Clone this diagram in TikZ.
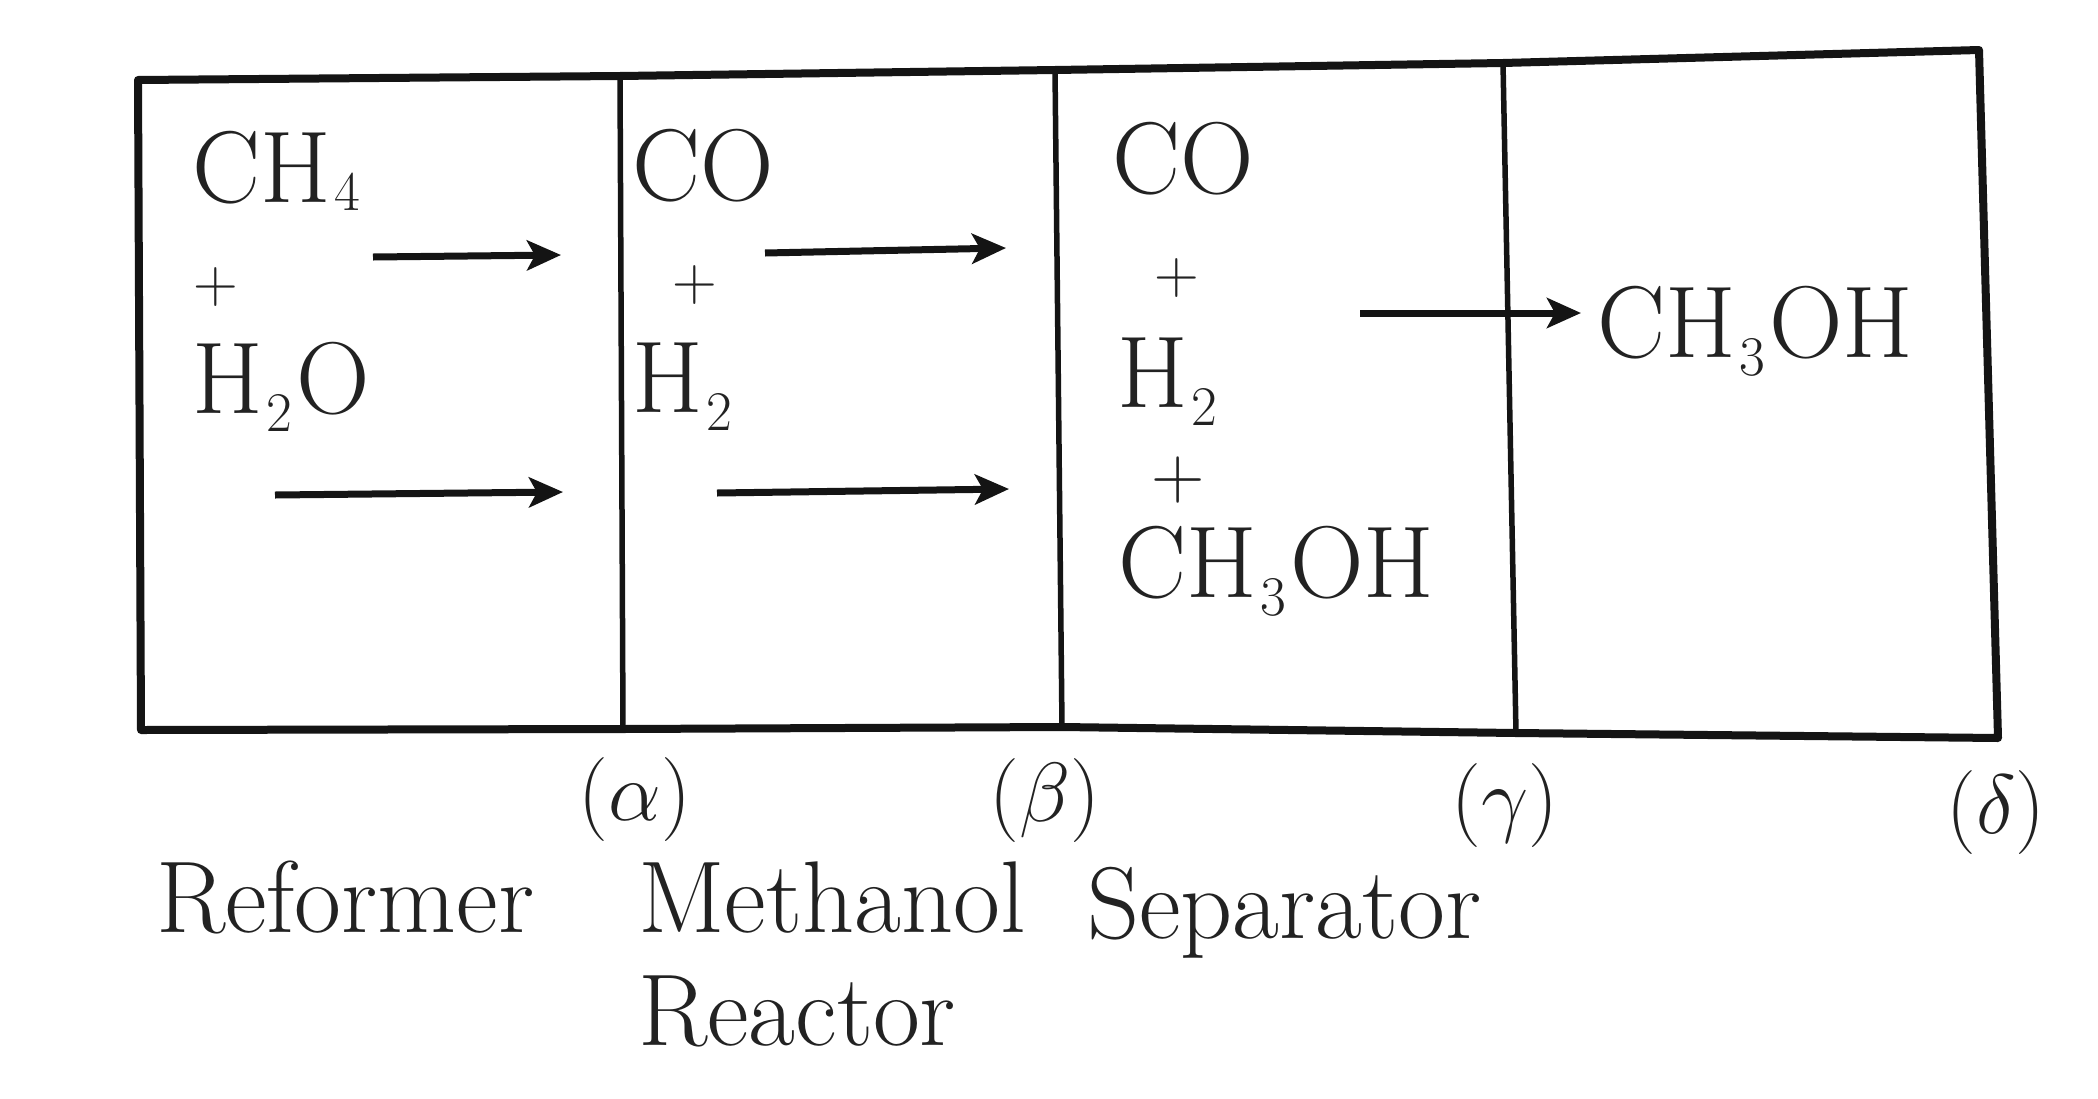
\documentclass[tikz,border=0pt]{standalone}
\usepackage{fix-cm}
\usetikzlibrary{arrows.meta}
\definecolor{ink}{RGB}{34,34,34}
\definecolor{lineink}{RGB}{20,20,20}
\newcommand\chs[2][-18pt]{\kern4pt\raisebox{#1}{\fontsize{56}{56}\selectfont #2}\kern4pt}
\begin{document}
\begin{tikzpicture}[x=1pt,y=-1pt,
  txt/.style={inner sep=0pt, outer sep=0pt, text=ink, font=\fontsize{102}{120}\selectfont, anchor=base west},
  plussmall/.style={inner sep=0pt, outer sep=0pt, text=ink, font=\fontsize{62}{70}\selectfont, anchor=center},
  plusbig/.style={inner sep=0pt, outer sep=0pt, text=ink, font=\fontsize{74}{80}\selectfont, anchor=center},
  greek/.style={inner sep=0pt, outer sep=0pt, text=ink, font=\fontsize{84}{96}\selectfont, anchor=center},
  border/.style={draw=lineink, line width=8pt, line join=round},
  divider/.style={draw=lineink, line width=5.5pt},
  flow/.style={draw=lineink, line width=7pt, -{Stealth[length=34pt,width=30pt,inset=8pt]}}
]
\useasboundingbox (0,0) rectangle (2098,1098);
\fill[white] (0,0) rectangle (2098,1098);

% frame corners and divider ends
\coordinate (TL) at (138,80);
\coordinate (A1) at (620,76);
\coordinate (B1) at (1055,70);
\coordinate (G1) at (1503,63);
\coordinate (TR) at (1979,50);
\coordinate (BR) at (1998,738);
\coordinate (G2) at (1516,733);
\coordinate (B2) at (1062,727);
\coordinate (A2) at (623,729);
\coordinate (BL) at (141,730);

\draw[divider] (A1) -- (A2);
\draw[divider] (B1) -- (B2);
\draw[divider] (G1) -- (G2);
\draw[border] (TL) -- (A1) -- (B1) -- (G1) -- (TR) -- (BR) -- (G2) -- (B2) -- (A2) -- (BL) -- cycle;

% cell 1
\node[txt] (ch4) at (192,202) {CH\chs[-8pt]{4}};
\node[plussmall] (p1) at (216,287) {+};
\node[txt] (h2o) at (192,413) {H\chs{2}O};
% cell 2
\node[txt] (co1) at (632,200) {CO};
\node[plussmall] (p2) at (695,285) {+};
\node[txt] (h2a) at (632,412) {H\chs{2}};
% cell 3
\node[txt] (co2) at (1112,193) {CO};
\node[plussmall] (p3) at (1177,278) {+};
\node[txt] (h2b) at (1117,407) {H\chs{2}};
\node[plusbig] (p4) at (1178,480) {+};
\node[txt] (meoh1) at (1118,597) {CH\chs{3}OH};
% cell 4
\node[txt] (meoh2) at (1597,357) {CH\chs{3}OH};

% arrows
\coordinate (r1s) at (373,257); \coordinate (r1e) at (561,255);
\coordinate (r2s) at (275,495); \coordinate (r2e) at (563,492);
\coordinate (r3s) at (765,253); \coordinate (r3e) at (1006,248);
\coordinate (r4s) at (717,493); \coordinate (r4e) at (1009,489);
\coordinate (r5s) at (1360,313); \coordinate (r5e) at (1581,313);
\draw[flow] (r1s) -- (r1e);
\draw[flow] (r2s) -- (r2e);
\draw[flow] (r3s) -- (r3e);
\draw[flow] (r4s) -- (r4e);
\draw[flow] (r5s) -- (r5e);

% point labels
\node[greek] (la) at (635,799) {$(\alpha)$};
\node[greek] (lb) at (1045,800) {$(\beta)$};
\node[greek] (lg) at (1505,805) {$(\gamma)$};
\node[greek] (ld) at (1996,812) {$(\delta)$};

% unit names
\node[txt] (ref) at (156,932) {Reformer};
\node[txt] (meth) at (638,932) {Methanol};
\node[txt] (sep) at (1087,938) {Separator};
\node[txt] (reac) at (638,1045) {Reactor};
\end{tikzpicture}
\end{document}
